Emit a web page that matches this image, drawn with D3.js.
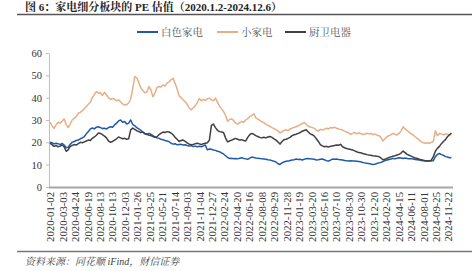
<!DOCTYPE html>
<html>
<head>
<meta charset="utf-8">
<script src="https://cdn.jsdelivr.net/npm/d3@7"></script>
<style>
  html, body { margin: 0; padding: 0; background: #fff; }
  svg { display: block; }
</style>
</head>
<body>
<svg id="chart"></svg>
<script>
// trading days from 2020-01-02 to 2024-12-06, one sample every 6 trading days
const tradingDays = 1195
const sampleStep = 6
const tickStep = 37

const tickLabels =
    [ '2020-01-02', '2020-03-03', '2020-04-24', '2020-06-19', '2020-08-13'
    , '2020-10-13', '2020-12-03', '2021-01-26', '2021-03-25', '2021-05-21'
    , '2021-07-14', '2021-09-03', '2021-11-04', '2021-12-27', '2022-02-24'
    , '2022-04-20', '2022-06-16', '2022-08-08', '2022-09-29', '2022-11-28'
    , '2023-01-19', '2023-03-20', '2023-05-16', '2023-07-10', '2023-08-30'
    , '2023-10-30', '2023-12-20', '2024-02-20', '2024-04-15', '2024-06-11'
    , '2024-08-01', '2024-09-25', '2024-11-22'
    ]

const yTicks = [0, 10, 20, 30, 40, 50, 60]

const seriesNames  = ['白色家电', '小家电', '厨卫电器']
const seriesColors = ['#1f5aa8', '#e8ae86', '#404040']

// 白色家电
const baijia =
    [ 20.0, 19.8, 19.3, 19.6, 19.4, 19.0, 19.5, 18.8, 17.6, 17.8
    , 19.0, 20.0, 20.4, 20.8, 21.0, 21.6, 22.0, 22.6, 23.8, 24.8
    , 26.0, 26.4, 26.0, 26.8, 27.0, 26.6, 26.2, 26.3, 26.0, 26.6
    , 27.0, 26.8, 27.8, 28.6, 29.6, 30.0, 29.0, 29.3, 28.2, 28.6
    , 30.0, 28.0, 27.4, 26.6, 26.0, 25.4, 24.6, 24.0, 23.5, 24.0
    , 23.6, 23.0, 22.4, 22.0, 21.8, 21.4, 21.2, 20.8, 20.6, 20.3
    , 19.6, 19.2, 19.4, 18.9, 19.0, 19.1, 18.8, 18.9, 18.6, 18.4
    , 18.5, 18.1, 18.3, 18.0, 18.2, 18.0, 18.4, 18.8, 16.6, 17.0
    , 16.9, 16.6, 16.4, 16.0, 15.8, 15.3, 14.8, 14.0, 13.2, 12.8
    , 12.9, 12.7, 12.8, 12.6, 12.9, 13.1, 12.8, 12.6, 12.4, 12.9
    , 13.4, 13.2, 13.0, 12.9, 12.8, 12.6, 12.5, 12.4, 12.2, 12.1
    , 11.8, 11.5, 11.2, 10.4, 10.1, 10.8, 11.2, 11.5, 11.6, 11.9
    , 12.1, 12.2, 12.5, 12.3, 12.4, 12.1, 12.4, 12.7, 12.8, 12.6
    , 12.5, 12.4, 12.1, 12.2, 12.4, 12.5, 12.2, 11.8, 11.6, 12.0
    , 12.5, 12.4, 12.5, 12.3, 12.2, 12.1, 11.9, 11.7, 11.6, 11.7
    , 11.6, 11.6, 11.5, 11.4, 11.3, 11.0, 10.8, 10.6, 10.5, 10.3
    , 10.1, 10.2, 10.5, 10.8, 11.0, 11.4, 11.8, 12.1, 12.3, 12.5
    , 12.8, 12.6, 12.9, 13.1, 13.0, 12.8, 13.0, 12.8, 12.6, 12.7
    , 12.5, 12.3, 12.2, 12.1, 11.9, 11.8, 11.6, 11.6, 11.7, 11.6
    , 11.8, 13.6, 14.6, 15.0, 14.5, 14.2, 13.6, 13.4, 13.1, 13.2
    ]

// 小家电
const xiaojia =
    [ 29.0, 27.5, 26.2, 27.8, 29.0, 28.6, 29.5, 30.5, 28.0, 26.6
    , 28.2, 30.0, 30.8, 31.5, 33.0, 33.4, 34.2, 35.0, 36.0, 37.0
    , 38.0, 40.0, 41.5, 42.7, 42.0, 42.2, 41.0, 42.4, 41.2, 40.0
    , 39.2, 39.6, 39.4, 38.6, 39.0, 38.2, 37.2, 36.7, 36.9, 37.6
    , 39.4, 44.0, 49.4, 48.9, 46.8, 44.5, 43.2, 42.2, 42.4, 45.0
    , 43.5, 40.4, 42.0, 44.5, 45.0, 44.8, 45.7, 45.2, 46.5, 47.0
    , 48.0, 48.7, 46.4, 44.0, 40.8, 40.0, 39.0, 38.2, 37.0, 35.4
    , 34.6, 35.5, 36.4, 37.8, 39.6, 38.6, 39.2, 38.8, 39.5, 39.8
    , 39.0, 38.6, 39.8, 38.0, 36.2, 35.0, 33.8, 32.0, 29.4, 30.2
    , 30.5, 29.8, 28.6, 28.2, 28.8, 29.3, 29.0, 30.0, 30.6, 31.5
    , 32.0, 32.8, 31.0, 30.4, 29.8, 29.2, 28.8, 28.2, 27.6, 27.2
    , 26.6, 26.2, 25.6, 25.2, 24.2, 24.8, 25.3, 25.6, 25.2, 26.0
    , 26.3, 26.8, 27.0, 27.4, 27.9, 28.3, 29.0, 28.0, 27.2, 26.9
    , 26.6, 26.3, 25.4, 25.0, 25.8, 25.5, 25.9, 26.3, 26.0, 26.6
    , 26.4, 26.8, 26.3, 26.0, 25.8, 25.5, 25.0, 24.6, 24.2, 23.6
    , 24.0, 24.5, 23.8, 24.2, 24.0, 23.5, 23.6, 24.1, 23.8, 24.0
    , 23.4, 23.7, 23.2, 23.0, 22.2, 20.6, 21.5, 22.5, 23.0, 23.4
    , 24.0, 23.6, 23.3, 24.0, 25.0, 27.0, 26.0, 25.2, 24.6, 23.8
    , 23.2, 22.5, 21.8, 21.0, 20.3, 19.8, 19.6, 19.8, 19.6, 20.0
    , 20.4, 25.2, 23.0, 24.0, 23.8, 23.3, 23.8, 23.6, 23.3, 23.5
    ]

// 厨卫电器
const chuwei =
    [ 19.6, 19.0, 18.2, 18.6, 18.0, 18.3, 18.8, 18.0, 16.0, 16.6
    , 18.2, 18.6, 19.0, 18.8, 19.4, 20.0, 19.8, 20.2, 20.6, 21.0
    , 20.8, 21.8, 22.4, 23.2, 24.2, 24.0, 23.4, 22.8, 22.0, 20.6
    , 20.0, 20.4, 21.0, 21.6, 22.4, 22.0, 21.6, 21.8, 21.4, 21.6
    , 25.6, 26.4, 25.8, 25.2, 24.8, 24.4, 24.6, 23.8, 23.6, 23.2
    , 23.0, 22.6, 22.3, 22.5, 23.4, 24.0, 24.6, 24.4, 24.8, 24.6
    , 24.2, 23.4, 22.2, 21.4, 20.4, 20.8, 21.0, 20.4, 19.8, 19.2
    , 18.9, 19.0, 19.4, 19.6, 19.3, 19.0, 19.4, 19.6, 19.8, 21.0
    , 27.6, 28.2, 26.6, 25.4, 24.8, 24.6, 24.4, 22.0, 20.2, 20.6
    , 21.0, 21.4, 21.8, 21.4, 21.0, 21.2, 20.8, 20.6, 22.2, 23.4
    , 24.0, 23.6, 23.0, 22.6, 22.2, 22.0, 22.3, 22.0, 22.4, 22.6
    , 22.2, 21.6, 21.0, 20.2, 19.2, 20.4, 21.2, 21.4, 21.8, 22.2
    , 23.0, 23.4, 23.6, 24.0, 24.4, 25.0, 25.3, 25.6, 24.6, 23.8
    , 23.4, 22.8, 21.6, 20.4, 19.0, 18.4, 18.0, 18.2, 17.9, 18.2
    , 18.4, 18.6, 18.8, 18.7, 19.1, 18.0, 17.6, 17.2, 17.0, 16.8
    , 16.6, 16.2, 15.8, 15.4, 15.3, 15.0, 14.8, 14.5, 14.3, 14.2
    , 14.0, 13.9, 13.8, 13.6, 13.0, 12.2, 12.4, 12.8, 13.2, 13.5
    , 13.8, 14.0, 14.3, 14.6, 15.2, 16.1, 15.4, 14.6, 14.2, 13.8
    , 13.4, 13.0, 12.8, 12.4, 12.2, 12.0, 11.8, 11.6, 11.8, 12.0
    , 13.6, 16.0, 17.3, 18.2, 19.4, 20.4, 21.2, 22.5, 23.4, 24.2
    ]

const width = 474
const height = 271
const serif = "'Liberation Serif', 'Times New Roman', 'Noto Serif CJK SC', 'Noto Sans CJK SC', serif"

const plot = { left: 49, right: 453, top: 53, bottom: 187 }

const svg = d3.select('#chart')
    .attr('width', width)
    .attr('height', height)

svg.append('rect')
    .attr('width', width)
    .attr('height', height)
    .attr('fill', '#fff')

// title + rules
svg.append('text')
    .attr('x', 25)
    .attr('y', 11)
    .attr('font-family', serif)
    .attr('font-size', 11)
    .attr('font-weight', 'bold')
    .attr('fill', '#222')
    .text('图 6：家电细分板块的 PE 估值（2020.1.2-2024.12.6）')

svg.append('line')
    .attr('x1', 17).attr('x2', 472)
    .attr('y1', 14.5).attr('y2', 14.5)
    .attr('stroke', '#555')
    .attr('stroke-width', 1.6)

svg.append('line')
    .attr('x1', 17).attr('x2', 472)
    .attr('y1', 251.5).attr('y2', 251.5)
    .attr('stroke', '#777')
    .attr('stroke-width', 1.6)

svg.append('text')
    .attr('x', 25)
    .attr('y', 265)
    .attr('font-family', serif)
    .attr('font-size', 10)
    .attr('font-style', 'italic')
    .attr('fill', '#404040')
    .text('资料来源：同花顺 iFind，财信证券')

// scales
const x = d3.scaleLinear()
    .domain([0, tradingDays - 1])
    .range([50, 451.5])

const y = d3.scaleLinear()
    .domain([0, 60])
    .range([plot.bottom, plot.top])

// y axis
const yAxis = svg.append('g')
    .attr('transform', 'translate(' + plot.left + ',0)')
    .call(d3.axisLeft(y).tickValues(yTicks).tickSize(3).tickSizeOuter(0).tickPadding(4))

yAxis.select('.domain').attr('stroke', '#bfbfbf')
yAxis.selectAll('.tick line').attr('stroke', '#bfbfbf')
yAxis.selectAll('.tick text')
    .attr('font-family', serif)
    .attr('font-size', 10.5)
    .attr('fill', '#333')

// x axis
const xAxis = svg.append('g')
    .attr('transform', 'translate(0,' + plot.bottom + ')')
    .call(d3.axisBottom(x)
        .tickValues(tickLabels.map((d, i) => i * tickStep))
        .tickFormat((d, i) => tickLabels[i])
        .tickSize(0)
        .tickSizeOuter(0))

xAxis.select('.domain').remove()
xAxis.append('line')
    .attr('x1', plot.left).attr('x2', plot.right)
    .attr('y1', 0.5).attr('y2', 0.5)
    .attr('stroke', '#a6a6a6')
    .attr('stroke-width', 2)

xAxis.selectAll('.tick text')
    .attr('transform', 'rotate(-90)')
    .attr('x', -5)
    .attr('y', 0)
    .attr('dy', '0.35em')
    .style('text-anchor', 'end')
    .attr('font-family', serif)
    .attr('font-size', 10.7)
    .attr('fill', '#333')

// lines
const line = d3.line()
    .x((d, i) => x(i * sampleStep))
    .y(d => y(d))

svg.append('g')
    .selectAll('path')
    .data([baijia, xiaojia, chuwei])
    .enter()
    .append('path')
    .attr('d', line)
    .attr('fill', 'none')
    .attr('stroke', (d, i) => seriesColors[i])
    .attr('stroke-width', 1.5)
    .attr('stroke-linejoin', 'round')

// legend
const legendX = [137, 217, 285]
const legend = svg.append('g')
    .selectAll('g')
    .data(seriesNames)
    .enter()
    .append('g')
    .attr('transform', (d, i) => 'translate(' + legendX[i] + ',32)')

legend.append('line')
    .attr('x1', 0).attr('x2', 21)
    .attr('stroke', (d, i) => seriesColors[i])
    .attr('stroke-width', 2)

legend.append('text')
    .attr('x', 24)
    .attr('dy', '0.35em')
    .attr('font-family', serif)
    .attr('font-size', 10.5)
    .attr('fill', '#555')
    .text(d => d)
</script>
</body>
</html>
